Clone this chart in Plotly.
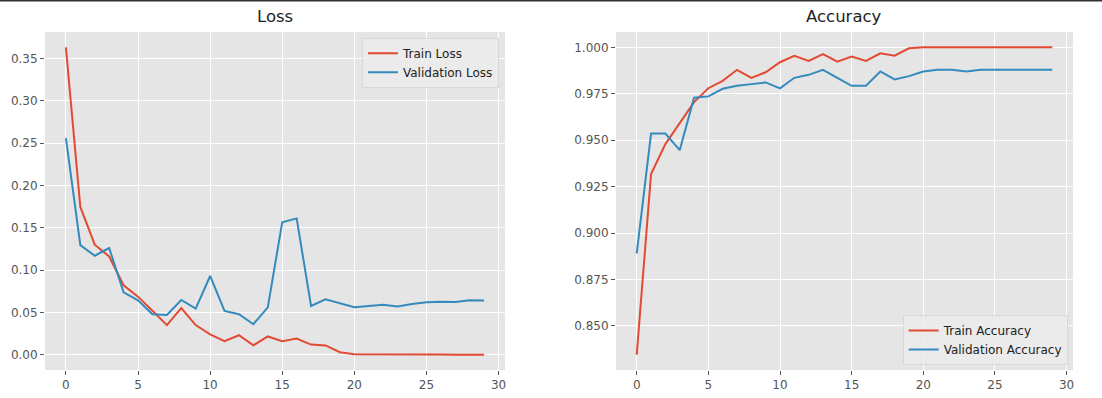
import plotly.graph_objects as go

epochs = list(range(30))

train_loss = [0.363, 0.1745, 0.130, 0.116, 0.082, 0.0686, 0.052, 0.035, 0.055, 0.035,
              0.024, 0.016, 0.023, 0.011, 0.0216, 0.016, 0.019, 0.012, 0.011, 0.003,
              0.0006, 0.0004, 0.0003, 0.0003, 0.0002, 0.0002, 0.0002, 0.0001, 0.0001, 0.0001]
val_loss = [0.2557, 0.1294, 0.1169, 0.126, 0.0737, 0.0643, 0.0478, 0.047, 0.0647, 0.0545,
            0.093, 0.0518, 0.0478, 0.036, 0.056, 0.1565, 0.161, 0.0576, 0.0655, 0.0608,
            0.056, 0.0576, 0.059, 0.057, 0.060, 0.062, 0.0627, 0.0624, 0.0643, 0.064]

train_acc = [0.8345, 0.9318, 0.9479, 0.959, 0.9705, 0.978, 0.982, 0.9879, 0.9836, 0.9866,
             0.992, 0.9954, 0.9927, 0.9964, 0.9923, 0.995, 0.9927, 0.9968, 0.9955, 0.9995,
             1.0, 1.0, 1.0, 1.0, 1.0, 1.0, 1.0, 1.0, 1.0, 1.0]
val_acc = [0.889, 0.9536, 0.9536, 0.9446, 0.9729, 0.9736, 0.9777, 0.9793, 0.9802, 0.9811,
           0.9779, 0.9836, 0.9852, 0.9879, 0.9836, 0.9793, 0.9793, 0.987, 0.9827, 0.9845,
           0.987, 0.9879, 0.9879, 0.987, 0.9879, 0.9879, 0.9879, 0.9879, 0.9879, 0.9879]

titles = ["Loss", "Accuracy"]
loss_names = ["Train Loss", "Validation Loss"]
acc_names = ["Train Accuracy", "Validation Accuracy"]
loss_ticks = [0.00, 0.05, 0.10, 0.15, 0.20, 0.25, 0.30, 0.35]
acc_ticks = [0.850, 0.875, 0.900, 0.925, 0.950, 0.975, 1.000]
x_ticks = [0, 5, 10, 15, 20, 25, 30]

RED = "#E24A33"
BLUE = "#348ABD"
FONT = "DejaVu Sans"

fig = go.Figure()
fig.add_trace(go.Scatter(x=epochs, y=train_loss, mode="lines", name=loss_names[0],
                         line=dict(color=RED, width=2), xaxis="x", yaxis="y", legend="legend"))
fig.add_trace(go.Scatter(x=epochs, y=val_loss, mode="lines", name=loss_names[1],
                         line=dict(color=BLUE, width=2), xaxis="x", yaxis="y", legend="legend"))
fig.add_trace(go.Scatter(x=epochs, y=train_acc, mode="lines", name=acc_names[0],
                         line=dict(color=RED, width=2), xaxis="x2", yaxis="y2", legend="legend2"))
fig.add_trace(go.Scatter(x=epochs, y=val_acc, mode="lines", name=acc_names[1],
                         line=dict(color=BLUE, width=2), xaxis="x2", yaxis="y2", legend="legend2"))

axis_common = dict(showgrid=True, gridcolor="white", gridwidth=1, zeroline=False,
                   ticks="outside", ticklen=4, tickcolor="#555555", showline=False,
                   automargin=False,
                   tickfont=dict(family=FONT, size=12, color="#555555"))

def pad(lo, hi):
    m = (hi - lo) * 0.05
    return [lo - m, hi + m]

legend_common = dict(bgcolor="rgba(236,236,236,0.85)", bordercolor="#d8d8d8", borderwidth=1,
                     font=dict(family=FONT, size=12, color="#222222"),
                     tracegroupgap=0, itemwidth=30)

fig.update_layout(
    width=1102, height=398,
    margin=dict(l=45, r=29, t=32, b=28),
    paper_bgcolor="white",
    plot_bgcolor="#E5E5E5",
    font=dict(family=FONT, color="#222222"),
    xaxis=dict(domain=[0, 0.4475], range=pad(0, 29), tickvals=x_ticks,
               ticktext=[str(t) for t in x_ticks], anchor="y", **axis_common),
    yaxis=dict(range=pad(min(train_loss + val_loss), max(train_loss + val_loss)),
               tickvals=loss_ticks, ticktext=[f"{t:.2f}" for t in loss_ticks],
               anchor="x", **axis_common),
    xaxis2=dict(domain=[0.5554, 1.0], range=pad(0, 29), tickvals=x_ticks,
                ticktext=[str(t) for t in x_ticks], anchor="y2", **axis_common),
    yaxis2=dict(range=pad(min(train_acc + val_acc), max(train_acc + val_acc)),
                tickvals=acc_ticks, ticktext=[f"{t:.3f}" for t in acc_ticks],
                anchor="x2", **axis_common),
    legend=dict(x=0.4416, y=0.983, xanchor="right", yanchor="top", **legend_common),
    legend2=dict(x=0.9948, y=0.0148, xanchor="right", yanchor="bottom", **legend_common),
    showlegend=True,
    annotations=[
        dict(text=titles[0], xref="x domain", yref="paper", x=0.5, y=1.0, yshift=4,
             xanchor="center", yanchor="bottom", showarrow=False,
             font=dict(family=FONT, size=16.5, color="#222222")),
        dict(text=titles[1], xref="x2 domain", yref="paper", x=0.5, y=1.0, yshift=4,
             xanchor="center", yanchor="bottom", showarrow=False,
             font=dict(family=FONT, size=16.5, color="#222222")),
    ],
    shapes=[
        dict(type="line", xref="paper", yref="paper", x0=-0.05, x1=1.05,
             y0=1 + 31.3 / 338, y1=1 + 31.3 / 338, line=dict(color="#333333", width=1.5)),
    ],
)

fig.write_html("out.html",
               config={"displayModeBar": False},
               post_script="document.body.style.margin='0';document.body.style.overflow='hidden';")
